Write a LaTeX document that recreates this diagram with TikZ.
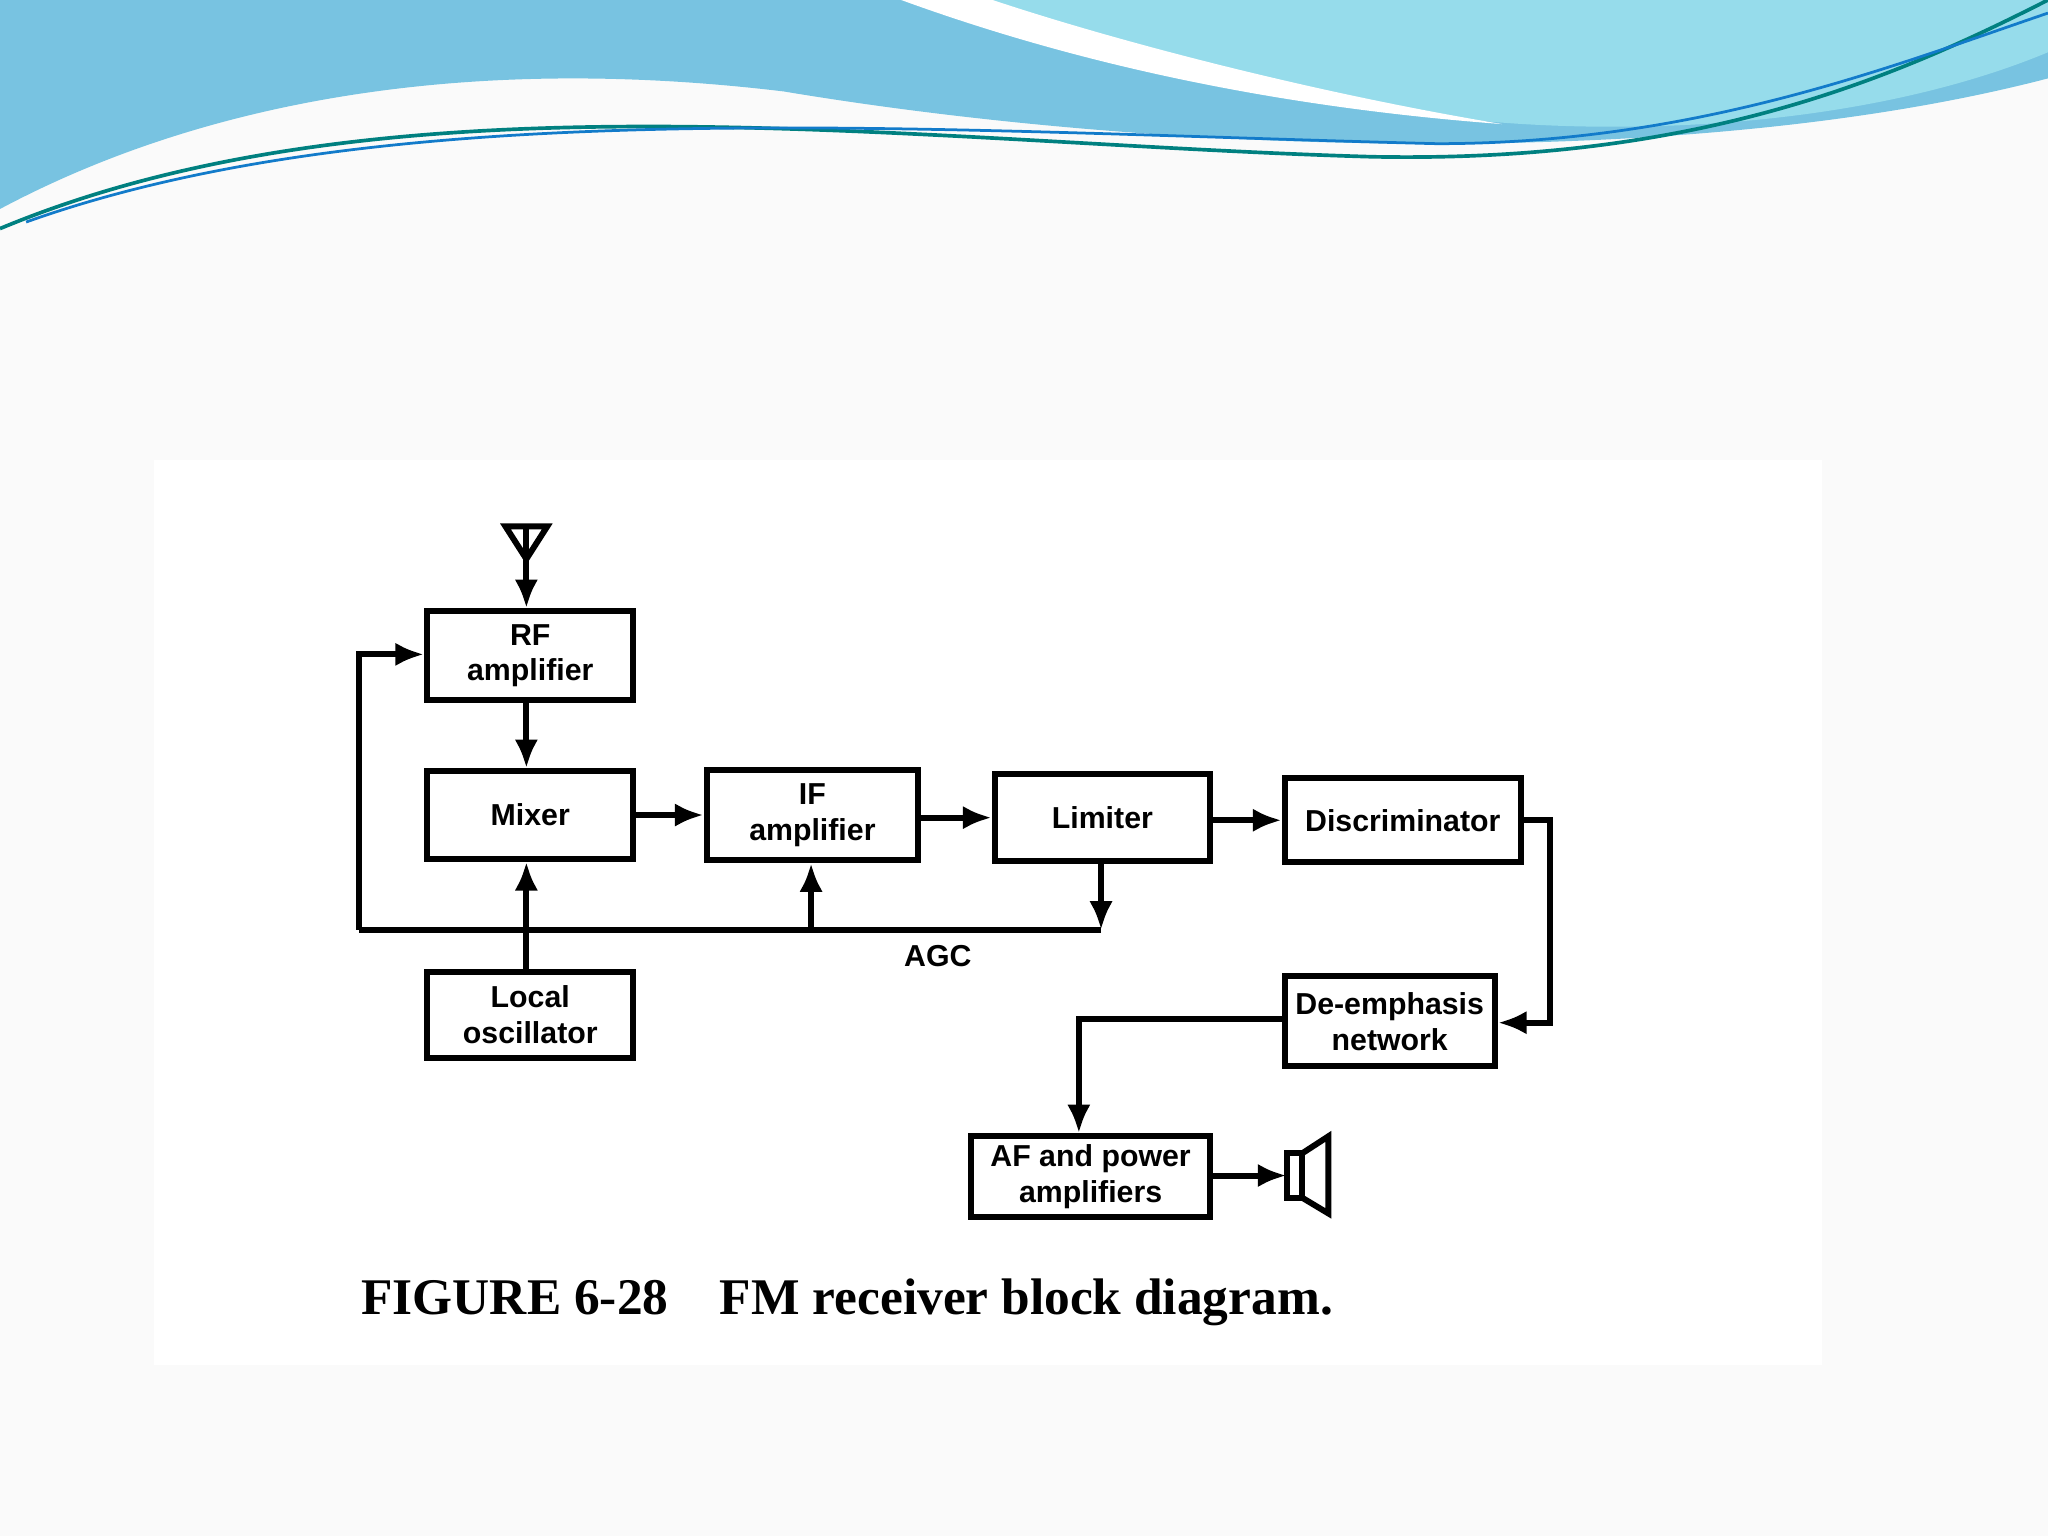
\documentclass[tikz,border=0pt]{standalone}
\usepackage{fontspec}
\setmainfont{Liberation Serif}
\setsansfont{Liberation Sans}
\usetikzlibrary{arrows.meta}
\definecolor{bannerA}{RGB}{120,195,225}
\definecolor{bannerB}{RGB}{150,220,235}
\begin{document}
\begin{tikzpicture}[x=0.1mm,y=-0.1mm,
 blk/.style={draw,line width=1.3pt,font=\sffamily\bfseries\fontsize{6.6}{7.8}\selectfont,align=center,inner sep=0pt},
 con/.style={line width=1.3pt,-{Latex[length=2.2mm,width=1.8mm]}},
 ln/.style={line width=1.3pt}]
\useasboundingbox (0,0) rectangle (1568,1176);
\fill[white!96!gray] (0,0) rectangle (1568,1176);
% banner
\fill[bannerA] (0,0) -- (1568,0) -- (1568,60) .. controls (1300,130) and (900,120) .. (600,70) .. controls (350,40) and (150,80) .. (0,160) -- cycle;
\fill[bannerB] (700,0) -- (1568,0) -- (1568,40) .. controls (1400,110) and (1150,110) .. (1000,70) .. controls (880,40) and (780,20) .. (700,0) -- cycle;
\fill[white] (690,0) .. controls (800,40) and (950,80) .. (1150,95) .. controls (1000,70) and (850,30) .. (760,0) -- cycle;
\draw[teal,line width=0.8pt] (0,175) .. controls (300,50) and (700,110) .. (1050,120) .. controls (1300,125) and (1450,60) .. (1568,0);
\draw[cyan!60!blue,line width=0.6pt] (20,170) .. controls (300,70) and (700,100) .. (1100,110) .. controls (1300,110) and (1450,50) .. (1568,10);
\fill[white] (118,352) rectangle (1395,1045);
% blocks
\node[blk,minimum width=15.8mm,minimum height=6.8mm] (rf) at (406,502) {RF\\amplifier};
\node[blk,minimum width=15.8mm,minimum height=6.7mm] (mix) at (406,624) {Mixer};
\node[blk,minimum width=16.2mm,minimum height=6.9mm] (if) at (622,624) {IF\\amplifier};
\node[blk,minimum width=16.5mm,minimum height=6.7mm] (lim) at (844,626) {Limiter};
\node[blk,minimum width=18.1mm,minimum height=6.4mm] (dis) at (1074,628) {Discriminator};
\node[blk,minimum width=15.8mm,minimum height=6.6mm] (lo) at (406,777) {Local\\oscillator};
\node[blk,minimum width=16.1mm,minimum height=6.9mm] (de) at (1064,782) {De-emphasis\\network};
\node[blk,minimum width=18.3mm,minimum height=6.2mm] (af) at (835,901) {AF and power\\amplifiers};
% antenna
\coordinate (ant) at (403,425);
\draw[ln] (387,403) -- (419,403) -- (403,428) -- cycle;
\draw[ln] (403,403) -- (403,428);
\draw[con] (ant) -- (rf.north -| ant);
\draw[con] (rf.south -| ant) -- (mix.north -| ant);
\draw[con] (mix.east) -- (mix.east -| if.west);
\draw[con] (if.east |- lim.west) -- (lim.west);
\draw[con] (lim.east |- dis.west) -- (dis.west);
\draw[con] (lo.north -| ant) -- (mix.south -| ant);
% AGC
\coordinate (agcL) at (275,712);
\coordinate (agcR) at (843,712);
\draw[con] (lim.south -| agcR) -- (agcR);
\draw[ln] (agcR) -- (agcL);
\draw[con] (agcL) -- (275,501) -- (rf.west |- 0,501);
\draw[con] (621,712) -- (if.south -| 621,0);
\node[font=\sffamily\bfseries\fontsize{6.6}{7.8}\selectfont] (agc) at (718,732) {AGC};
\draw[con] (dis.east) -- (1187,628) -- (1187,783) -- (de.east |- 0,783);
\draw[con] (de.west |- 0,780) -- (826,780) -- (af.north -| 826,0);
% speaker
\coordinate (spk) at (985,900);
\draw[con] (af.east |- spk) -- (spk);
\draw[ln] (985,883) rectangle (997,917);
\draw[ln] (997,883) -- (1017,870) -- (1017,929) -- (997,917);
\node[font=\bfseries\fontsize{11.2}{13}\selectfont,anchor=west,inner sep=0pt] (cap) at (276,997) {FIGURE 6-28\quad FM receiver block diagram.};
\end{tikzpicture}
\end{document}
